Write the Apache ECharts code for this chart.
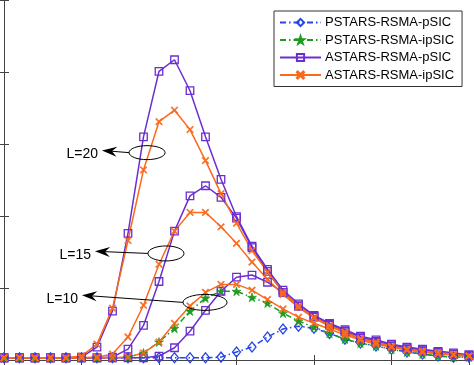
<!DOCTYPE html>
<html><head><meta charset="utf-8">
<script src="https://cdn.jsdelivr.net/npm/echarts@6/dist/echarts.min.js"></script>
<style>html,body{margin:0;padding:0;background:#fff}#c{width:474px;height:365px}</style>
</head><body><div id="c"></div>
<script>
const xIdx = [0,1,2,3,4,5,6,7,8,9,10,11,12,13,14,15,16,17,18,19,20,21,22,23,24,25,26,27,28,29,30];
const seriesNames = ['PSTARS-RSMA-pSIC','PSTARS-RSMA-ipSIC','ASTARS-RSMA-pSIC','ASTARS-RSMA-ipSIC'];
const pstarsPsic = [0.03,0.03,0.03,0.03,0.03,0.03,0.03,0.03,0.03,0.03,0.03,0.03,0.03,0.03,0.04,0.11,0.18,0.32,0.43,0.47,0.44,0.37,0.29,0.235,0.194,0.15,0.11,0.083,0.055,0.04,0.04];
const pstarsIpsic = [0.03,0.03,0.03,0.03,0.03,0.03,0.03,0.03,0.04,0.097,0.25,0.44,0.68,0.86,0.955,0.955,0.87,0.79,0.65,0.54,0.457,0.37,0.29,0.235,0.194,0.15,0.11,0.083,0.055,0.04,0.04];
const astarsPsicL20 = [0.03,0.03,0.03,0.03,0.03,0.04,0.18,0.68,1.76,3.10,4.01,4.17,3.74,3.10,2.51,1.99,1.58,1.26,0.97,0.78,0.62,0.51,0.42,0.33,0.28,0.22,0.18,0.15,0.12,0.10,0.07];
const astarsPsicL15 = [0.03,0.03,0.03,0.03,0.03,0.03,0.03,0.04,0.15,0.48,1.09,1.79,2.28,2.42,2.26,1.97,1.56,1.23,0.94,0.75,0.61,0.50,0.40,0.32,0.26,0.21,0.17,0.14,0.11,0.08,0.07];
const astarsPsicL10 = [0.03,0.03,0.03,0.03,0.03,0.03,0.03,0.03,0.03,0.03,0.055,0.17,0.40,0.69,0.955,1.15,1.18,1.08,0.94,0.75,0.595,0.48,0.39,0.30,0.25,0.19,0.15,0.125,0.10,0.08,0.055];
const astarsIpsicL20 = [0.03,0.03,0.03,0.03,0.03,0.055,0.22,0.72,1.66,2.64,3.31,3.47,3.20,2.77,2.31,1.90,1.52,1.22,0.94,0.75,0.595,0.48,0.39,0.30,0.25,0.19,0.15,0.125,0.10,0.08,0.055];
const astarsIpsicL15 = [0.03,0.03,0.03,0.03,0.03,0.03,0.04,0.083,0.32,0.76,1.33,1.79,2.05,2.05,1.85,1.62,1.36,1.12,0.91,0.73,0.58,0.47,0.37,0.29,0.235,0.18,0.14,0.11,0.097,0.07,0.055];
const astarsIpsicL10 = [0.03,0.03,0.03,0.03,0.03,0.03,0.03,0.03,0.04,0.097,0.25,0.51,0.75,0.94,1.05,1.05,0.97,0.84,0.71,0.595,0.51,0.43,0.346,0.277,0.22,0.18,0.14,0.11,0.083,0.07,0.055];
// annotations: label, ellipse centre (data), tip of arrow (data)
const annLabels = ['L=20','L=15','L=10'];
const annEllipse = [[9.23,2.88],[10.45,1.48],[12.97,0.80]];
const annRadius = [[18,7],[18,7.5],[22,8]];
const annTip = [[6.32,2.91],[5.87,1.51],[5.03,0.90]];

const C_BLUE='#2646e6', C_GREEN='#1f9a1f', C_PURPLE='#6a2fd0', C_ORANGE='#fa6a1c';
const STAR='path://M50,0 L61.8,36.2 L100,36.2 L69.1,58.6 L80.9,95.1 L50,72.4 L19.1,95.1 L30.9,58.6 L0,36.2 L38.2,36.2 Z';
const XMARK='path://M0,1.2 L1.2,0 L5,3.8 L8.8,0 L10,1.2 L6.2,5 L10,8.8 L8.8,10 L5,6.2 L1.2,10 L0,8.8 L3.8,5 Z';
const pairs = arr => xIdx.map((x,i)=>[x,arr[i]]);

function mk(name, data, color, symbol, size, dashed, hollow){
  return {
    name, type:'line', data: pairs(data), symbol, symbolSize:size,
    lineStyle:{color, width:1.5, type: dashed ? [6,3,1.5,3] : 'solid'},
    itemStyle: hollow ? {color:'rgba(255,255,255,0)', borderColor:color, borderWidth:1.3} : {color, borderColor:color, borderWidth:0.6},
    emphasis:{disabled:true}, animation:false, z:2
  };
}
const chart = echarts.init(document.getElementById('c'));
const axisLine = {show:true, lineStyle:{color:'#444', width:1}};
chart.setOption({
  animation:false,
  grid:{left:4, right:5, top:-1, bottom:5, show:false},
  xAxis:[
    {type:'value', min:0, max:30, interval:5, axisLine, axisTick:{inside:true, length:5, lineStyle:{color:'#444'}}, axisLabel:{show:false}, splitLine:{show:false}},
    {type:'value', position:'top', min:0, max:30, interval:5, axisLine, axisTick:{inside:true, length:5, lineStyle:{color:'#444'}}, axisLabel:{show:false}, splitLine:{show:false}}
  ],
  yAxis:[
    {type:'value', min:0, max:5, interval:1, axisLine, axisTick:{inside:true, length:5, lineStyle:{color:'#444'}}, axisLabel:{show:false}, splitLine:{show:false}},
    {type:'value', position:'right', min:0, max:5, interval:1, axisLine, axisTick:{inside:true, length:5, lineStyle:{color:'#444'}}, axisLabel:{show:false}, splitLine:{show:false}}
  ],
  legend:{
    data: seriesNames, orient:'vertical', left:274, top:11,
    padding:[5,8,5,5], itemGap:4.5, itemWidth:41, itemHeight:9,
    backgroundColor:'#fff', borderColor:'#333', borderWidth:1, borderRadius:0,
    textStyle:{fontFamily:'Liberation Sans', fontSize:13, color:'#000', padding:[0,0,0,-1]},
    selectedMode:false
  },
  series:[
    mk(seriesNames[0], pstarsPsic, C_BLUE, 'diamond', [8,10], true, true),
    mk(seriesNames[1], pstarsIpsic, C_GREEN, STAR, 9, true, false),
    mk(seriesNames[2], astarsPsicL20, C_PURPLE, 'rect', 7.5, false, true),
    mk(seriesNames[2], astarsPsicL15, C_PURPLE, 'rect', 7.5, false, true),
    mk(seriesNames[2], astarsPsicL10, C_PURPLE, 'rect', 7.5, false, true),
    mk(seriesNames[3], astarsIpsicL20, C_ORANGE, XMARK, 7, false, false),
    mk(seriesNames[3], astarsIpsicL15, C_ORANGE, XMARK, 7, false, false),
    mk(seriesNames[3], astarsIpsicL10, C_ORANGE, XMARK, 7, false, false)
  ]
});
// annotations
const g = [];
annLabels.forEach((lab,k)=>{
  const c = chart.convertToPixel({gridIndex:0}, annEllipse[k]);
  const t = chart.convertToPixel({gridIndex:0}, annTip[k]);
  const [rx, ry] = annRadius[k];
  const tail = [c[0]-rx, c[1]];
  g.push({type:'ellipse', shape:{cx:c[0], cy:c[1], rx, ry}, style:{fill:'none', stroke:'#000', lineWidth:1}, z:10});
  const dx = tail[0]-t[0], dy = tail[1]-t[1], len = Math.hypot(dx,dy);
  const ux = dx/len, uy = dy/len, nx = -uy, ny = ux;
  const L = 15, W = 5, N = 10;
  const back = [t[0]+ux*L, t[1]+uy*L];
  g.push({type:'line', shape:{x1:tail[0], y1:tail[1], x2:t[0]+ux*N, y2:t[1]+uy*N}, style:{stroke:'#000', lineWidth:1}, z:10});
  g.push({type:'polygon', shape:{points:[t,[back[0]+nx*W, back[1]+ny*W],[t[0]+ux*N, t[1]+uy*N],[back[0]-nx*W, back[1]-ny*W]]}, style:{fill:'#000'}, z:10});
  g.push({type:'text', x:t[0]-4, y:t[1]+4, style:{text:lab, fill:'#000', font:'14px "Liberation Sans"', align:'right', verticalAlign:'middle'}, z:10});
});
chart.setOption({graphic:g});
</script></body></html>
